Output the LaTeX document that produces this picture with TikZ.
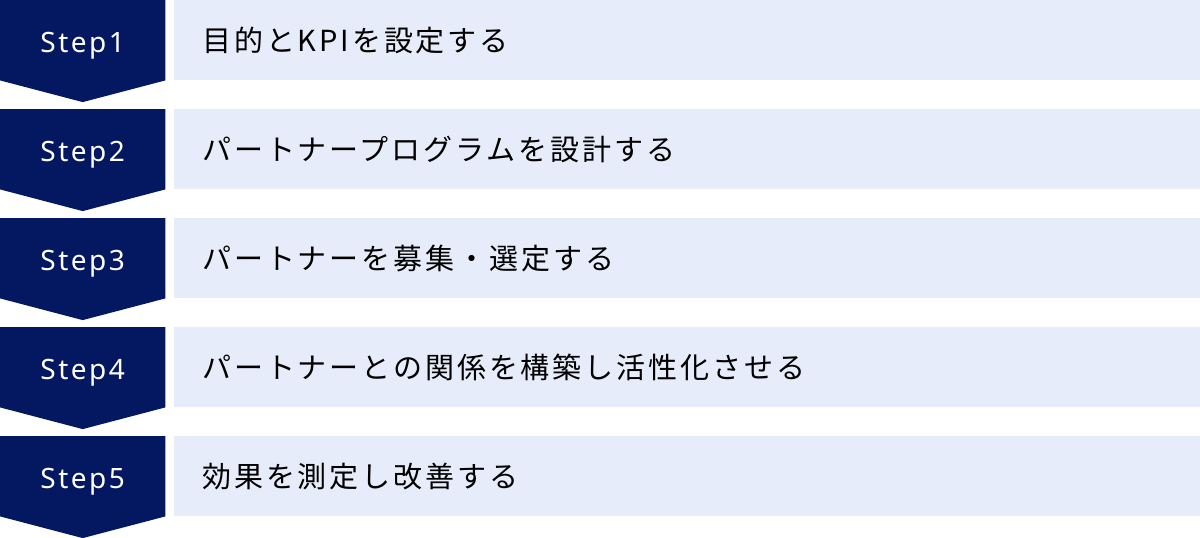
\documentclass[tikz,border=0pt]{standalone}
\usepackage{fontspec}
\setmainfont{Noto Sans}[LetterSpace=9]
\newfontfamily\jpfont{Noto Sans CJK JP}[LetterSpace=10]
\definecolor{stepnavy}{HTML}{041861}
\definecolor{taskblue}{HTML}{E6ECF9}

\begin{document}
\begin{tikzpicture}[x=1pt, y=-1pt,
  stepbox/.style={minimum width=165pt, minimum height=80pt, inner sep=0pt, anchor=north west},
  steplabel/.style={text=white, inner sep=0pt, text height=24pt, text depth=0pt,
    font=\fontsize{28}{32}\selectfont},
  taskbox/.style={fill=taskblue, minimum width=1026pt, minimum height=80pt,
    text width=970pt, inner xsep=28pt, inner ysep=0pt, align=left, anchor=north west,
    font=\jpfont\fontsize{29}{34}\selectfont}]
  \useasboundingbox (0,0) rectangle (1200,538);
  % one row per step: navy chevron on the left, task bar on the right
  \foreach \i/\task in {1/目的とKPIを設定する,
                        2/パートナープログラムを設計する,
                        3/パートナーを募集・選定する,
                        4/パートナーとの関係を構築し活性化させる,
                        5/効果を測定し改善する} {
    \node[stepbox] (step\i) at (0,{(\i-1)*109}) {};
    \fill[stepnavy] (step\i.north west) -- (step\i.north east) -- (step\i.south east)
      -- ([yshift=-21.7pt]step\i.south) -- (step\i.south west) -- cycle;
    \node[steplabel] (label\i) at (step\i.center) {Step\i};
    \node[taskbox] (task\i) at (174,{(\i-1)*109}) {\task};
  }
\end{tikzpicture}
\end{document}
